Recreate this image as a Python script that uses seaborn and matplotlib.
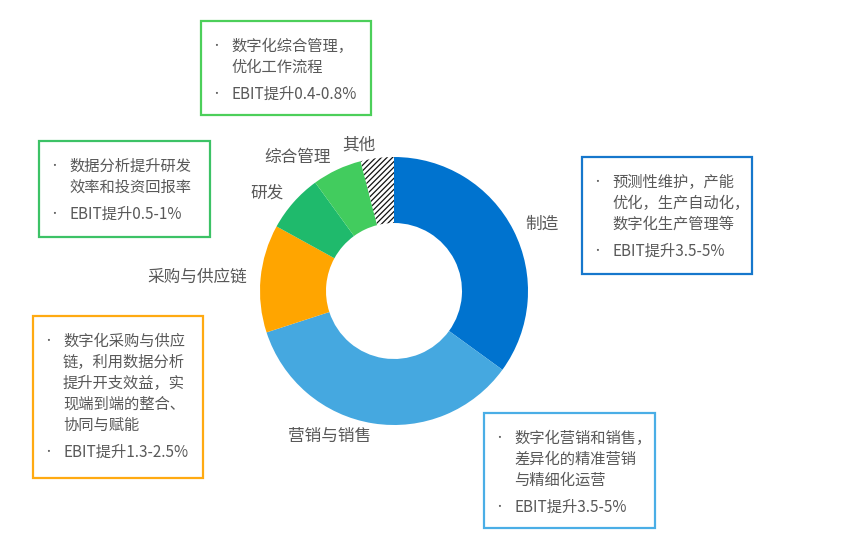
import numpy as np
import matplotlib
matplotlib.use("Agg")
import matplotlib.pyplot as plt
import seaborn as sns
from matplotlib.patches import Rectangle

# ---------------- DATA ----------------
categories = ["制造", "营销与销售", "采购与供应链", "研发", "综合管理", "其他"]
shares = [35, 35, 13, 7, 6, 4]

descriptions = [
    ["预测性维护，产能", "优化，生产自动化，", "数字化生产管理等"],
    ["数字化营销和销售，", "差异化的精准营销", "与精细化运营"],
    ["数字化采购与供应", "链，利用数据分析", "提升开支效益，实", "现端到端的整合、", "协同与赋能"],
    ["数据分析提升研发", "效率和投资回报率"],
    ["数字化综合管理，", "优化工作流程"],
]
ebit = ["EBIT提升3.5-5%", "EBIT提升3.5-5%", "EBIT提升1.3-2.5%", "EBIT提升0.5-1%", "EBIT提升0.4-0.8%"]

# ---------------- STYLE ----------------
sns.set_theme(style="white")
plt.rcParams["font.family"] = ["Noto Sans CJK SC", "DejaVu Sans"]
plt.rcParams["hatch.linewidth"] = 0.9

palette = sns.color_palette(["#0073CF", "#45A8E0", "#FFA500", "#1FBA6C", "#42CC5E", "#FFFFFF"])
box_colors = ["#1677CC", "#4AAEE6", "#FFAA11", "#3CC266", "#4CCF5A"]
text_color = "#595959"

# box layout in pixels: left, top, width, height
box_layout = [
    (582, 157, 170, 117),
    (484, 413, 171, 115),
    (33, 316, 170, 162),
    (39, 141, 171, 96),
    (201, 21, 170, 94),
]

fig = plt.figure(figsize=(8.46, 5.5), dpi=100)
ax = fig.add_axes([0, 0, 1, 1])

# ---------------- DONUT ----------------
cx, cy = 394, 291
wedges, texts = ax.pie(
    shares,
    labels=categories,
    colors=palette,
    center=(cx, cy),
    radius=134,
    startangle=-90,
    counterclock=True,
    labeldistance=1.10,
    wedgeprops=dict(width=66, linewidth=0),
    textprops=dict(fontsize=12, color=text_color),
)
wedges[-1].set_hatch("//////")
wedges[-1].set_edgecolor("#111111")

# align labels away from the ring (pie decides from absolute x, which is off here)
for t in texts:
    x, y = t.get_position()
    t.set_ha("left" if x > cx else "right")
    t.set_va("center")

ax.set_xlim(0, 846)
ax.set_ylim(550, 0)
ax.set_aspect("equal")
ax.axis("off")

# ---------------- TEXT BOXES ----------------
for (left, top, w, h), col, lines, eb in zip(box_layout, box_colors, descriptions, ebit):
    ax.add_patch(Rectangle((left, top), w, h, fill=False, edgecolor=col, linewidth=1.6))
    y = top + 25
    ax.text(left + 15, y, "•", fontsize=7, color=text_color, ha="center", va="center")
    for line in lines:
        ax.text(left + 30, y, line, fontsize=11, color=text_color, va="center")
        y += 21
    y += 6
    ax.text(left + 15, y, "•", fontsize=7, color=text_color, ha="center", va="center")
    ax.text(left + 30, y, eb, fontsize=11, color=text_color, va="center")

fig.savefig("out.png", dpi=100)
